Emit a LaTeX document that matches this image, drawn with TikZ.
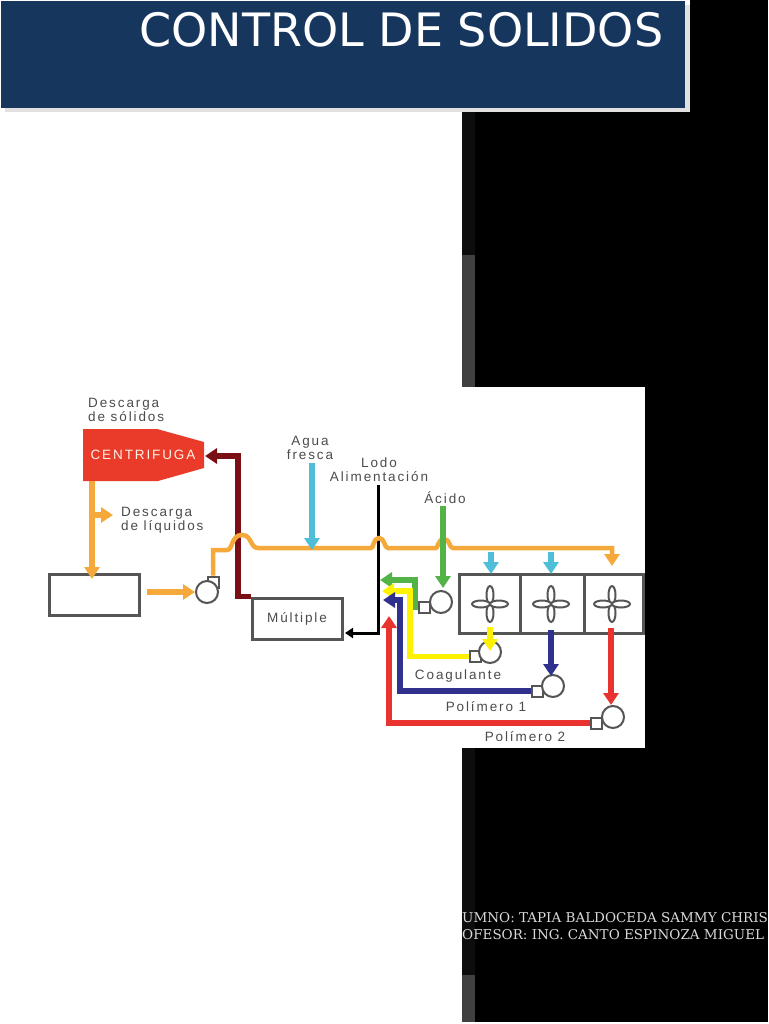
\documentclass[tikz,border=0pt]{standalone}
\usepackage{fontspec}
\usepackage{tikz}
\usetikzlibrary{arrows.meta}
\newfontfamily\titlefont{DejaVu Sans}
\newfontfamily\labelfont[LetterSpace=14]{Liberation Sans}
\newfontfamily\namefont{DejaVu Serif}
\definecolor{navy}{HTML}{17365D}
\definecolor{naranja}{HTML}{F5A93A}
\definecolor{celeste}{HTML}{4FBFD9}
\definecolor{verde}{HTML}{52B447}
\definecolor{amarillo}{HTML}{FFF200}
\definecolor{azul}{HTML}{30318F}
\definecolor{rojo}{HTML}{E8332F}
\definecolor{vino}{HTML}{7A1016}
\definecolor{gris}{HTML}{555555}
\tikzset{
    pipe/.style = {line width = 5.5pt, line join = miter},
    pipetip/.style = {pipe, -{Triangle[width = 15pt, length = 12pt]}},
    boxnode/.style = {draw = gris, line width = 3pt, fill = white, inner sep = 0pt, minimum width = #1, minimum height = 41pt},
    pumpbody/.style = {circle, draw = gris, line width = 2pt, fill = white, inner sep = 0pt, minimum size = 22pt},
    pumpbox/.style = {draw = gris, line width = 2pt, fill = white, inner sep = 0pt, minimum size = 11pt},
    petal/.style = {draw = gris, line width = 2pt, fill = white},
    lbl/.style = {font = \labelfont\fontsize{13.5}{14}\selectfont, text = black!70, inner sep = 0pt, align = center},
}
\newcommand{\fan}[1]{
    \draw[petal] (#1) ++(0, -9) ellipse (3.5 and 9);
    \draw[petal] (#1) ++(0, 9) ellipse (3.5 and 9);
    \draw[petal] (#1) ++(-9, 0) ellipse (9 and 3.5);
    \draw[petal] (#1) ++(9, 0) ellipse (9 and 3.5);
}
\begin{document}
\begin{tikzpicture}[x = 1pt, y = -1pt]
    \useasboundingbox (0, 0) rectangle (768, 1024);
    \fill[white] (0, 0) rectangle (768, 1024);

    \fill[black] (462, 112) rectangle (768, 1022);
    \fill[black] (690, 0) rectangle (768, 112);
    \fill[black!95] (462, 112) rectangle (475, 255);
    \fill[black!75] (462, 255) rectangle (475, 387);
    \fill[black!95] (462, 748) rectangle (475, 975);
    \fill[black!75] (462, 975) rectangle (475, 1022);
    \fill[white] (462, 387) rectangle (645, 748);

    \fill[black!12] (5, 5) rectangle (690, 112);
    \fill[navy] (1, 1) rectangle (685, 108);
    \node[anchor = base, text = white, font = \titlefont\fontsize{46}{50}\selectfont, inner sep = 0pt] (titulo) at (401.5, 47) {CONTROL DE SOLIDOS};

    \fill[rojo!90!orange] (83, 429) -- (157, 429) -- (204, 442) -- (204, 468) -- (158, 481) -- (83, 481) -- cycle;
    \node[text = white!90!orange, font = \labelfont\fontsize{13.5}{14}\selectfont, inner sep = 0pt] (centrifuga) at (143, 455) {CENTRIFUGA};
    \coordinate (centrifugaout) at (92, 481);
    \coordinate (centrifugain) at (205, 456);

    \node[boxnode = 90pt] (tanque) at (94, 594.5) {};
    \node[boxnode = 90pt, lbl] (multiple) at (297, 618.5) {Múltiple};

    \draw[naranja, pipe] (centrifugaout) -- (92, 515);
    \draw[pipetip, naranja] (92, 515) -- (113, 515);
    \draw[pipetip, naranja] (centrifugaout) -- (92, 579);

    \coordinate (tanqueout) at (147, 592);
    \node[pumpbox] (pumpentradabox) at (213, 582) {};
    \node[pumpbody] (pumpentrada) at (207, 592) {};
    \draw[pipetip, naranja] (tanqueout) -- (pumpentrada.west);

    \draw[pipetip, vino] (multiple.north west) -| (238, 456) -- (centrifugain);
    \coordinate (lodoin) at (378, 485);
    \draw[black, line width = 3pt, -{Triangle[width = 10pt, length = 8pt]}] (lodoin) -- (378, 633) -- (345, 633);

    \coordinate (aguain) at (312, 463);
    \coordinate (aguaout) at (312, 550);
    \coordinate (acidoin) at (443, 506);

    \draw[pipetip, naranja, line width = 4.5pt] (pumpentradabox.north) -- (213, 550) -- (227, 550)
        .. controls (233, 550) and (231, 535) .. (242, 535)
        .. controls (252, 535) and (250, 548) .. (258, 548)
        -- (371, 548) .. controls (374, 548) and (373, 538) .. (379, 538)
        .. controls (385, 538) and (384, 548) .. (388, 548)
        -- (436, 548) .. controls (438, 548) and (438, 539) .. (444, 539)
        .. controls (450, 539) and (449, 548) .. (453, 548)
        -- (612, 548) -- (612, 566);
    \draw[pipetip, celeste] (aguain) -- (aguaout);

    \node[draw = gris, line width = 3pt, fill = white, inner sep = 0pt, minimum width = 184pt, minimum height = 59pt] (celdas) at (551, 603.5) {};
    \draw[gris, line width = 3pt] (520, 574) -- (520, 633);
    \draw[gris, line width = 3pt] (584, 574) -- (584, 633);
    \coordinate (fanuno) at (490, 604);
    \coordinate (fandos) at (551, 604);
    \coordinate (fantres) at (612, 604);
    \fan{fanuno}
    \fan{fandos}
    \fan{fantres}

    \draw[pipetip, celeste] (491, 552) -- (491, 574);
    \draw[pipetip, celeste] (551, 552) -- (551, 574);

    \node[pumpbox] (pumpacidobox) at (424.5, 607) {};
    \node[pumpbody] (pumpacido) at (441, 602) {};
    \node[pumpbox] (pumpcoagbox) at (475, 656.5) {};
    \node[pumpbody] (pumpcoag) at (490, 652) {};
    \node[pumpbox] (pumpunobox) at (537, 691) {};
    \node[pumpbody] (pumpuno) at (553, 686) {};
    \node[pumpbox] (pumpdosbox) at (596.5, 723) {};
    \node[pumpbody] (pumpdos) at (613, 717) {};

    \draw[pipetip, verde] (acidoin) -- (443, 588);
    \draw[pipetip, amarillo] (490, 627) -- (490, 651);
    \draw[pipetip, azul] (551, 630) -- (551, 676);
    \draw[pipetip, rojo] (611, 628) -- (611, 705);

    \draw[pipetip, verde] (pumpacidobox.west) -| (415, 580) -- (380, 580);
    \draw[pipetip, amarillo] (pumpcoagbox.west) -| (410, 591) -- (382, 591);
    \draw[pipetip, azul] (pumpunobox.west) -| (400, 600) -- (383, 600);
    \draw[pipetip, rojo] (pumpdosbox.west) -| (389, 616);

    \node[lbl, align = left, anchor = west] (solidostxt) at (88, 410) {Descarga\\de sólidos};
    \node[lbl, align = left, anchor = west] (liquidostxt) at (121, 520) {Descarga\\de líquidos};
    \node[lbl] (aguatxt) at (310, 448) {Agua\\fresca};
    \node[lbl] (lodotxt) at (379, 470) {Lodo\\Alimentación};
    \node[lbl] (acidotxt) at (445, 498) {Ácido};
    \node[lbl] (coagtxt) at (458, 676) {Coagulante};
    \node[lbl] (polunotxt) at (486, 707) {Polímero 1};
    \node[lbl] (poldostxt) at (525, 737) {Polímero 2};

    \node[anchor = base west, text = white!85!black, font = \namefont\fontsize{13.5}{14}\selectfont, inner sep = 0pt] (alumno) at (462, 922) {UMNO: TAPIA BALDOCEDA SAMMY CHRIS};
    \node[anchor = base west, text = white!85!black, font = \namefont\fontsize{13.5}{14}\selectfont, inner sep = 0pt] (profesor) at (462, 939) {OFESOR: ING. CANTO ESPINOZA MIGUEL};
\end{tikzpicture}
\end{document}
